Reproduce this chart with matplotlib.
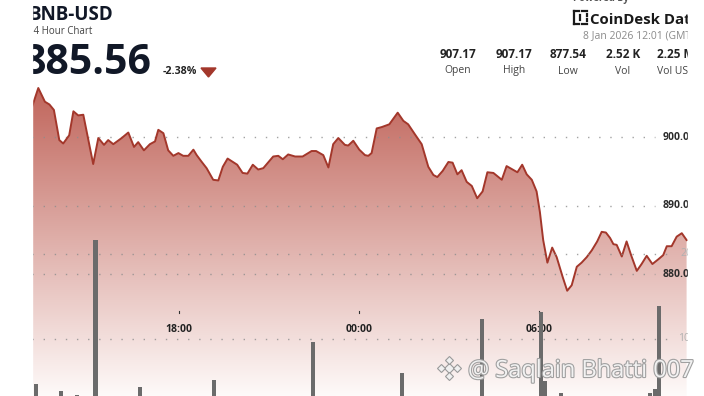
import numpy as np
import matplotlib.pyplot as plt
from matplotlib.patches import Polygon, Rectangle
from matplotlib.lines import Line2D
from matplotlib import patheffects as pe

plt.rcParams['font.family'] = ['Open Sans', 'DejaVu Sans']

# time in hours after 12:00 GMT on 7 Jan, price in USD
hours = [1.09, 1.31, 1.53, 1.68, 1.83, 2.01, 2.14, 2.34, 2.48, 2.64,
         2.81, 3.14, 3.31, 3.50, 3.64, 3.81, 4.09, 4.31, 4.50, 4.64,
         4.83, 5.03, 5.20, 5.31, 5.48, 5.64, 5.81, 5.98, 6.14, 6.31,
         6.48, 6.59, 6.76, 6.92, 7.14, 7.31, 7.46, 7.62, 7.94, 8.12,
         8.28, 8.46, 8.64, 8.81, 9.14, 9.31, 9.46, 9.64, 9.87, 10.12,
         10.42, 10.57, 10.81, 10.98, 11.14, 11.31, 11.53, 11.64, 11.81, 12.01,
         12.20, 12.31, 12.42, 12.59, 12.76, 13.01, 13.29, 13.48, 13.64, 13.87,
         14.09, 14.31, 14.48, 14.61, 14.79, 14.98, 15.12, 15.28, 15.42, 15.59,
         15.76, 15.94, 16.12, 16.28, 16.48, 16.76, 16.92, 17.20, 17.28, 17.44,
         17.59, 17.76, 17.92, 18.03, 18.14, 18.28, 18.44, 18.59, 18.79, 18.94,
         19.09, 19.26, 19.42, 19.59, 19.76, 19.94, 20.09, 20.23, 20.37, 20.48,
         20.59, 20.76, 20.92, 21.07, 21.26, 21.42, 21.59, 21.78, 21.98, 22.14,
         22.26, 22.42, 22.59, 22.76, 22.92]
price = [904.3, 907.2, 905.2, 904.8, 904.0, 899.6, 899.1, 900.3, 903.8, 903.2,
         903.3, 896.1, 899.9, 898.9, 899.6, 899.0, 899.9, 900.7, 898.6, 899.3,
         898.1, 899.0, 899.4, 901.1, 900.6, 898.1, 897.3, 897.7, 897.3, 897.3,
         898.2, 897.4, 896.4, 895.5, 893.8, 893.7, 895.7, 896.9, 896.0, 894.8,
         894.7, 896.0, 895.3, 895.5, 897.2, 897.3, 896.8, 897.5, 897.2, 897.2,
         898.0, 898.0, 897.4, 895.6, 899.0, 899.9, 898.9, 898.8, 899.5, 898.2,
         897.4, 897.3, 897.7, 901.3, 901.5, 901.9, 903.6, 902.4, 901.9, 900.4,
         899.0, 895.7, 894.5, 894.2, 895.1, 896.4, 896.3, 894.6, 895.2, 893.5,
         892.9, 891.1, 892.1, 894.9, 894.8, 893.8, 895.8, 895.1, 894.9, 896.0,
         894.6, 893.8, 892.1, 889.1, 885.0, 881.7, 883.9, 882.5, 879.6, 877.6,
         878.4, 881.1, 881.7, 882.5, 883.5, 884.8, 886.2, 886.1, 885.3, 884.4,
         884.3, 882.6, 884.8, 882.8, 880.5, 881.5, 882.7, 881.5, 882.2, 882.8,
         884.1, 884.1, 885.5, 886.0, 885.0]

# volume bars (thousands BNB)
vol_hours = [1.23, 2.07, 2.59, 3.22, 4.70, 7.18, 10.48, 13.44, 16.09,
             18.06, 18.20, 18.73, 21.70, 21.87, 22.01]
volume = [4.7, 3.9, 3.4, 21.6, 4.3, 5.2, 9.7, 6.0, 12.3,
          13.2, 5.0, 3.6, 3.7, 4.1, 13.9]

price_ticks = [900, 890, 880]
vol_ticks = [20, 10]
time_ticks = [6, 12, 18]
time_labels = ['18:00', '00:00', '06:00']

stats_values = ['907.17', '907.17', '877.54', '2.52 K', '2.25 M']
stats_names = ['Open', 'High', 'Low', 'Vol', 'Vol USD']

W, H = 704, 396
fig = plt.figure(figsize=(W / 100, H / 100), dpi=100)
fig.patch.set_facecolor('white')

# chart area, in pixels: x 32..688, y 85..396
ax_top = 85
ax = fig.add_axes([32 / W, 0, 656 / W, (H - ax_top) / H])
ax.set_xlim(1.1, 22.967)
ax.set_ylim(862.23, 907.64)
ax.axis('off')

def yfrac(py):
    return (H - py) / (H - ax_top)

# gradient fill under the price line
top = np.array([192, 100, 90]) / 255
bot = np.array([254, 250, 249]) / 255
t = np.linspace(0, 1, 256)[:, None]
grad = (top * (1 - t) + bot * t)[:, None, :]
x0, x1 = ax.get_xlim()
y0, y1 = ax.get_ylim()
im = ax.imshow(grad, extent=[x0, x1, y0, y1], aspect='auto', origin='upper',
               zorder=1, interpolation='bilinear')
verts = [(hours[0], y0)] + list(zip(hours, price)) + [(hours[-1], y0)]
clip = Polygon(verts, closed=True, facecolor='none', edgecolor='none')
ax.add_patch(clip)
im.set_clip_path(clip)

for p in price_ticks:
    ax.axhline(p, xmax=0.95, color='#8c8c8c', lw=1, ls=(0, (1, 7)),
               alpha=0.8, zorder=3)
    ax.text(0.962, p, f'{p:.1f}', transform=ax.get_yaxis_transform(),
            ha='left', va='center', fontsize=7.5, fontweight='bold',
            color='#2b2b2b', clip_on=True, zorder=6)

ax.plot(hours, price, color='#a3372b', lw=1.4, zorder=5,
        solid_joinstyle='round')

for h, lab in zip(time_ticks, time_labels):
    ax.text(h, yfrac(329.5), lab, transform=ax.get_xaxis_transform(),
            ha='center', va='center', fontsize=7.5, fontweight='bold',
            color='#222222', zorder=6)
    ax.plot([h, h], [yfrac(310.5), yfrac(312.5)],
            transform=ax.get_xaxis_transform(), color='#333333', lw=0.8,
            zorder=6)

# volume on a second scale
ax2 = ax.twinx()
ax2.set_ylim(3.294, 39.88)
ax2.axis('off')
for v, xf in zip(vol_ticks, [0.988, 0.985]):
    ax2.axhline(v, xmax=0.972, color='#8c8c8c', lw=1, ls=(0, (1, 7)),
                alpha=0.8, zorder=1)
    ax2.text(xf, v, str(v), transform=ax2.get_yaxis_transform(),
             ha='left', va='center', fontsize=7.5, color='#b0b0b0',
             clip_on=True)
ax2.bar(vol_hours, volume, width=0.14, color='#6b6b6b', zorder=2)

def ft(x, y, s, **kw):
    return fig.text(x / W, 1 - y / H, s, **kw)

# header, left
ft(113, 20.5, 'BNB-USD', ha='right', va='baseline', fontsize=13.5,
   fontweight='bold', color='#111827')
ft(92, 33.5, '24 Hour Chart', ha='right', va='baseline', fontsize=7,
   color='#444444')
ft(151, 74, '885.56', ha='right', va='baseline', fontsize=29.5,
   fontweight='bold', color='#111827')
ft(163, 72, '-2.38%', ha='left', va='center', fontsize=7.7,
   fontweight='bold', color='#222222')
fig.add_artist(Polygon([(201 / W, 1 - 68 / H), (216 / W, 1 - 68 / H),
                        (208.5 / W, 1 - 77 / H)], closed=True,
                       transform=fig.transFigure, color='#a3372b'))

# header, right
ft(573, 1.5, 'Powered by', ha='left', va='baseline', fontsize=7,
   fontweight='bold', color='#555555')
for (xa, ya, xb, yb) in [(574, 11, 579, 11), (582, 11, 587, 11),
                         (574, 24, 579, 24), (582, 24, 587, 24),
                         (574, 11, 574, 24), (587, 14, 587, 16),
                         (587, 19, 587, 21), (580, 15, 580, 20)]:
    fig.add_artist(Line2D([xa / W, xb / W], [1 - ya / H, 1 - yb / H],
                          transform=fig.transFigure, color='#1a1a1a', lw=1.6))
ft(590, 24.5, 'CoinDesk Data', ha='left', va='baseline', fontsize=10.8,
   fontweight='bold', color='#1a1a1a')
ft(583, 35.5, '8 Jan 2026 12:01 (GMT)', ha='left', va='center', fontsize=7.5,
   color='#8a8a8a')
for xc, val, name in zip([458, 514.5, 568, 623, 676], stats_values, stats_names):
    ft(xc, 54, val, ha='center', va='center', fontsize=8.5,
       fontweight='bold', color='#222222')
    ft(xc, 71, name, ha='center', va='center', fontsize=7.5, color='#444444')

# screenshot crop margins
fig.add_artist(Rectangle((0, 0), 32 / W, 1, transform=fig.transFigure,
                         color='white', zorder=10))
fig.add_artist(Rectangle((688 / W, 0), 16 / W, 1, transform=fig.transFigure,
                         color='white', zorder=10))

# watermark
wm = dict(transform=fig.transFigure, zorder=20)
cx, cy = 449, 367.5
for dx, dy, s in [(0, 0, 5), (-8, 0, 4), (8, 0, 4), (0, -8, 4), (0, 8, 4)]:
    fig.add_artist(Line2D([(cx + dx) / W], [1 - (cy + dy) / H], marker='D',
                          markersize=s, markerfacecolor='#f0f0f0',
                          markeredgecolor='#9a9a9a', markeredgewidth=0.8,
                          linestyle='none', **wm))
ft(468, 377, '@ Saqlain Bhatti 007', ha='left', va='baseline', fontsize=17,
   color='#f2f2f2', zorder=20,
   path_effects=[pe.withStroke(linewidth=1.6, foreground='#a0a0a0')])

fig.savefig('out.png', dpi=100)
